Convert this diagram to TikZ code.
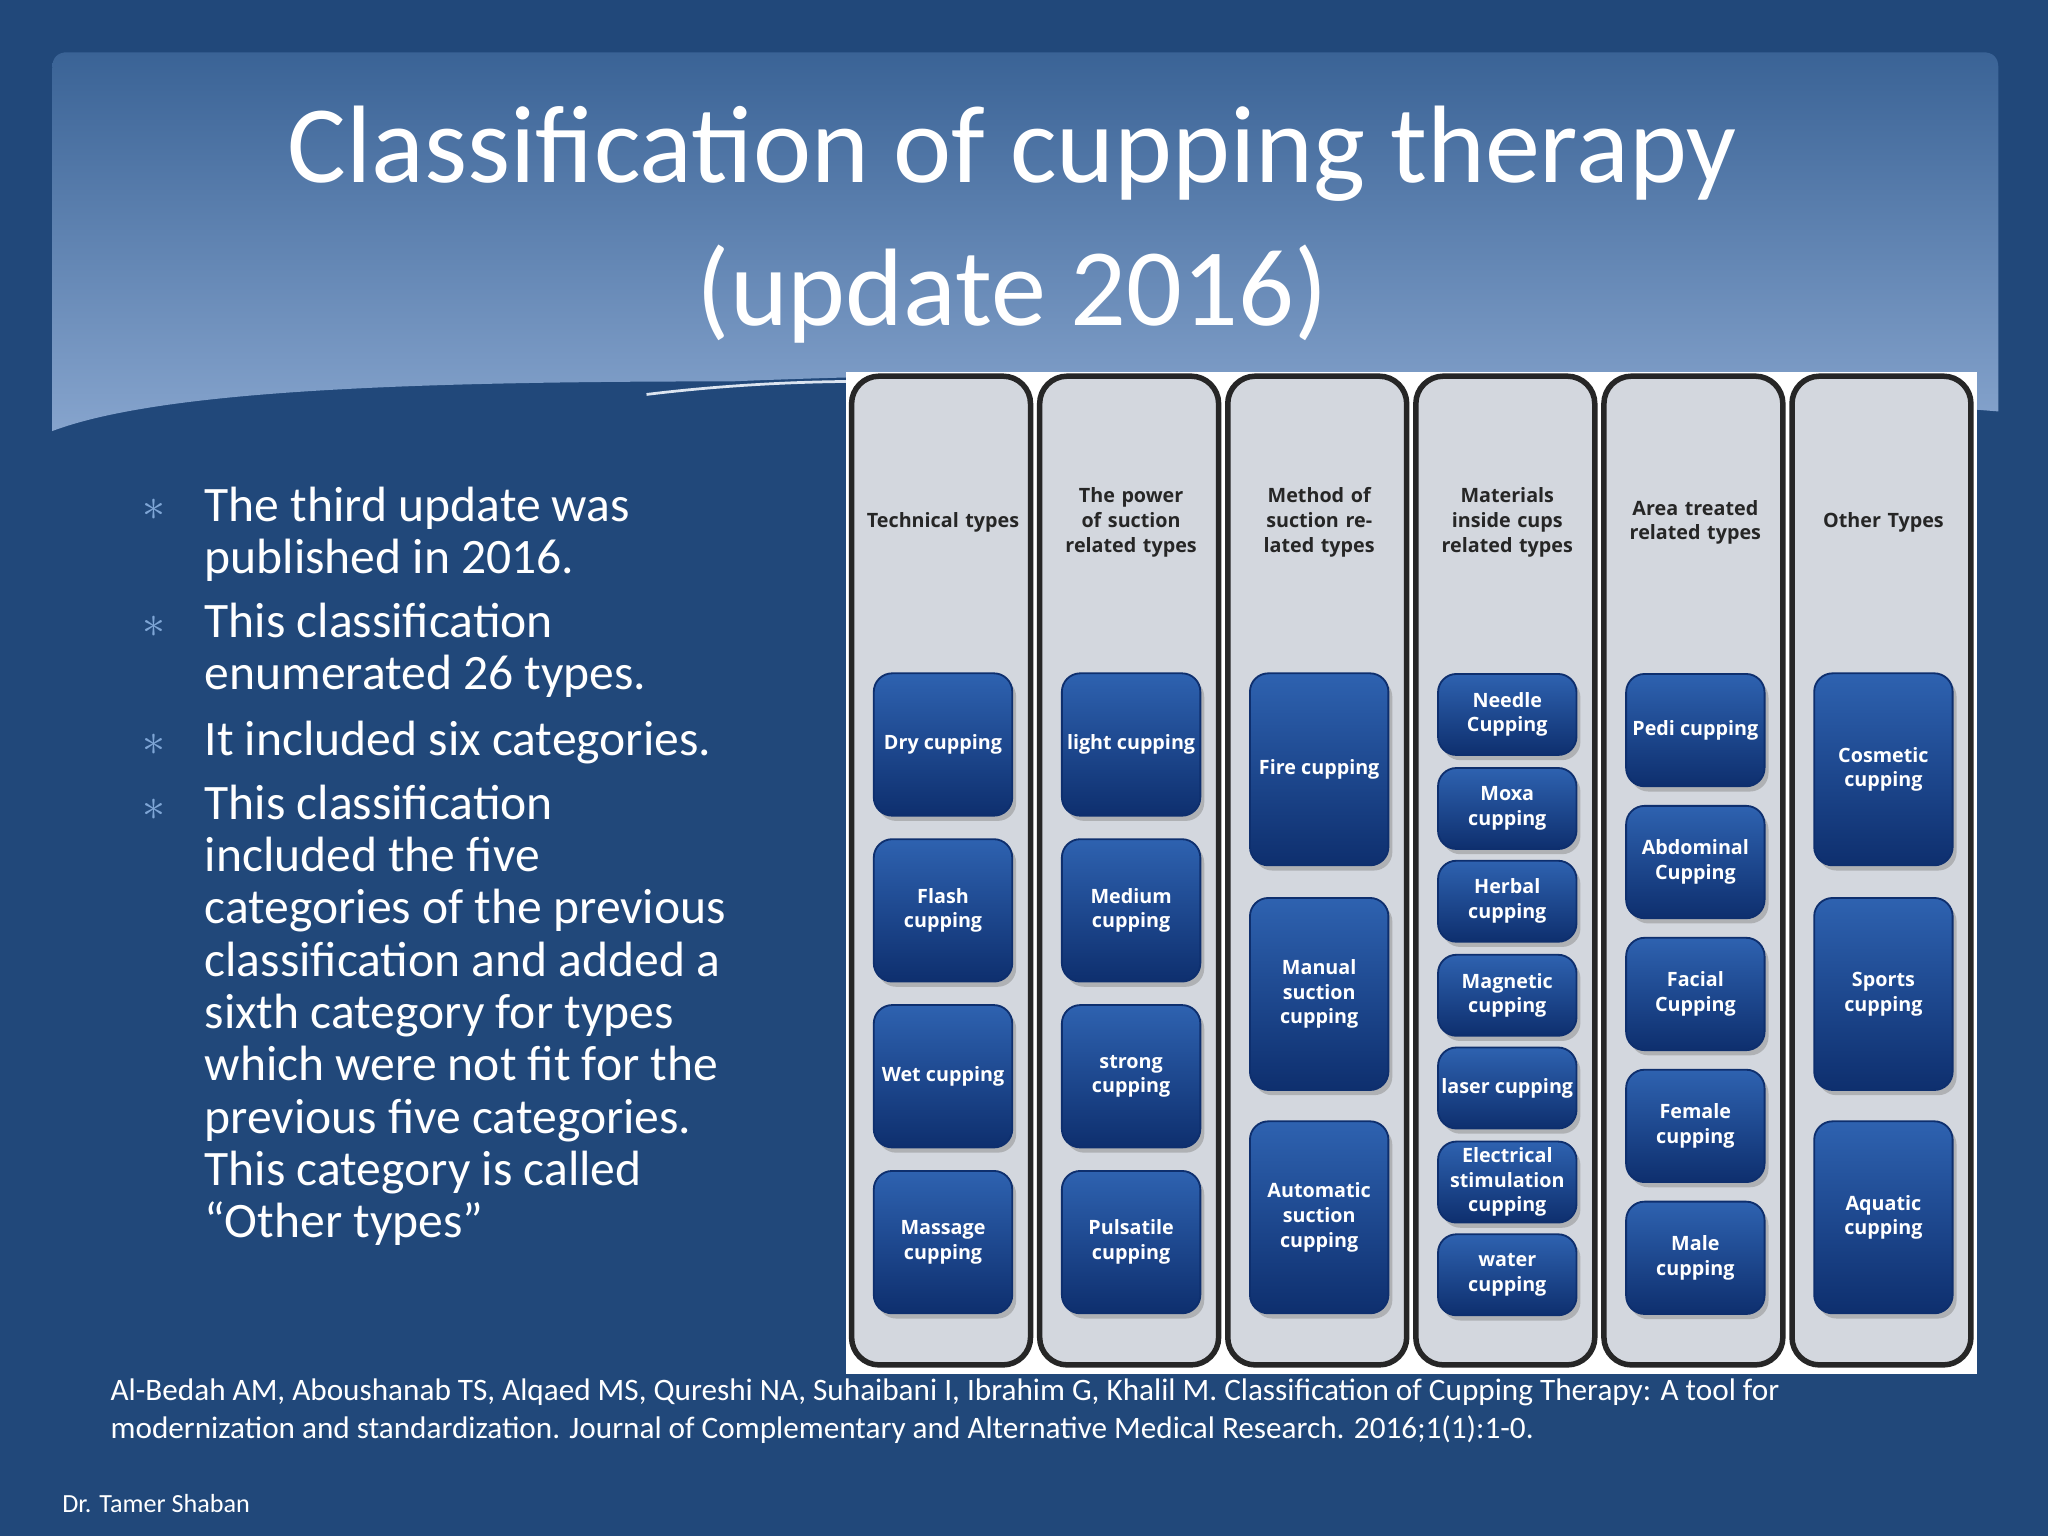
\documentclass[tikz,border=0pt]{standalone}
\usepackage{fontspec}
\setmainfont{Carlito}
\newfontfamily\boxfont{Open Sans}
\usetikzlibrary{shadows}
\definecolor{bg}{HTML}{21487A}
\definecolor{ptop}{HTML}{3A6396}
\definecolor{pbot}{HTML}{86A4CD}
\definecolor{bul}{HTML}{7FA6D6}
\definecolor{colg}{HTML}{D3D7DE}
\definecolor{btop}{HTML}{2E62B0}
\definecolor{bbot}{HTML}{0E2F6E}
\tikzset{
 colbox/.style={draw=black!85,line width=1.2pt,rounded corners=6pt,fill=colg},
 hdr/.style={font=\boxfont\bfseries\fontsize{4.3pt}{5.4pt}\selectfont,text=black!85,align=center,text width=13mm},
 bbox/.style={rounded corners=4pt,top color=btop,bottom color=bbot,draw=bbot,
   drop shadow={shadow xshift=0.3mm,shadow yshift=-0.4mm,fill=black!45},
   font=\boxfont\bfseries\fontsize{4.3pt}{5.4pt}\selectfont,text=white,align=center,
   minimum width=10.6mm,inner sep=0.5pt},
}
\begin{document}
\begin{tikzpicture}[x=0.1mm,y=-0.1mm]
\fill[bg] (0,0) rectangle (1568,1176);
\useasboundingbox (0,0) rectangle (1568,1176);
% top panel
\shade[top color=ptop,bottom color=pbot] (40,52) .. controls (40,44) and (44,40) .. (52,40) -- (1518,40) .. controls (1526,40) and (1530,44) .. (1530,52) -- (1530,315) .. controls (1100,280) and (750,284) .. (560,292) .. controls (300,292) and (120,300) .. (40,330) -- cycle;
\draw[white!70!pbot,line width=0.6pt] (495,302) .. controls (560,294) and (620,292) .. (660,292);
\node[white,font=\fontsize{24pt}{31pt}\selectfont,align=center] (title) at (775,172) {Classification of cupping therapy\\(update 2016)};
% bullets
\foreach \y in {390,480,570,620}{\node[bul,font=\fontsize{10pt}{10pt}\selectfont] at (118,\y) {$\ast$};}
\node[white,anchor=north west,align=left,font=\fontsize{10.8pt}{11.4pt}\selectfont,inner sep=0] (b1) at (156,372) {The third update was\\published in 2016.};
\node[white,anchor=north west,align=left,font=\fontsize{10.8pt}{11.4pt}\selectfont,inner sep=0] (b2) at (156,461) {This classification\\enumerated 26 types.};
\node[white,anchor=north west,align=left,font=\fontsize{10.8pt}{11.4pt}\selectfont,inner sep=0] (b3) at (156,551) {It included six categories.};
\node[white,anchor=north west,align=left,font=\fontsize{10.8pt}{11.4pt}\selectfont,inner sep=0] (b4) at (156,600) {This classification\\included the five\\categories of the previous\\classification and added a\\sixth category for types\\which were not fit for the\\previous five categories.\\This category is called\\“Other types”};
% chart
\fill[white] (648,285) rectangle (1514,1052);
\foreach \x in {652,796,940,1084,1228,1372}{\draw[colbox] (\x,288) rectangle ++(137,757);}
\node[hdr] (h1) at (722,400) {Technical types};
\node[hdr] (h2) at (866,400) {The power of suction related types};
\node[hdr] (h3) at (1010,400) {Method of suction related types};
\node[hdr] (h4) at (1154,400) {Materials inside cups related types};
\node[hdr] (h5) at (1298,400) {Area treated related types};
\node[hdr] (h6) at (1442,400) {Other Types};
% col1 & col2
\foreach \c/\t [count=\i] in {570/Dry cupping,697/Flash\\cupping,824/Wet cupping,951/Massage\\cupping}
  {\node[bbox,minimum height=10.9mm] (a\i) at (722,\c) {\t};}
\foreach \c/\t [count=\i] in {570/light cupping,697/Medium\\cupping,824/strong\\cupping,951/Pulsatile\\cupping}
  {\node[bbox,minimum height=10.9mm] (p\i) at (866,\c) {\t};}
\foreach \c/\t [count=\i] in {589/Fire cupping,761/Manual\\suction\\cupping,932/Automatic\\suction\\cupping}
  {\node[bbox,minimum height=14.7mm] (m\i) at (1010,\c) {\t};}
\foreach \c/\t [count=\i] in {547/Needle\\Cupping,619/Moxa\\cupping,690/Herbal\\cupping,762/Magnetic\\cupping,833/laser cupping,905/Electrical\\stimulation\\cupping,976/water\\cupping}
  {\node[bbox,minimum height=6.2mm] (t\i) at (1154,\c) {\t};}
\foreach \c/\t [count=\i] in {559/Pedi cupping,660/Abdominal\\Cupping,761/Facial\\Cupping,862/Female\\cupping,963/Male\\cupping}
  {\node[bbox,minimum height=8.6mm] (r\i) at (1298,\c) {\t};}
\foreach \c/\t [count=\i] in {589/Cosmetic\\cupping,761/Sports\\cupping,932/Aquatic\\cupping}
  {\node[bbox,minimum height=14.7mm] (o\i) at (1442,\c) {\t};}
% reference
\node[white,anchor=north west,align=left,inner sep=0,font=\fontsize{6.8pt}{8.2pt}\selectfont] (ref) at (84,1055) {Al-Bedah AM, Aboushanab TS, Alqaed MS, Qureshi NA, Suhaibani I, Ibrahim G, Khalil M. Classification of Cupping Therapy: A tool for\\modernization and standardization. Journal of Complementary and Alternative Medical Research. 2016;1(1):1-0.};
\node[white,anchor=west,inner sep=0,font=\fontsize{5.7pt}{6.8pt}\selectfont] (dr) at (47,1151) {Dr. Tamer Shaban};
\end{tikzpicture}
\end{document}
